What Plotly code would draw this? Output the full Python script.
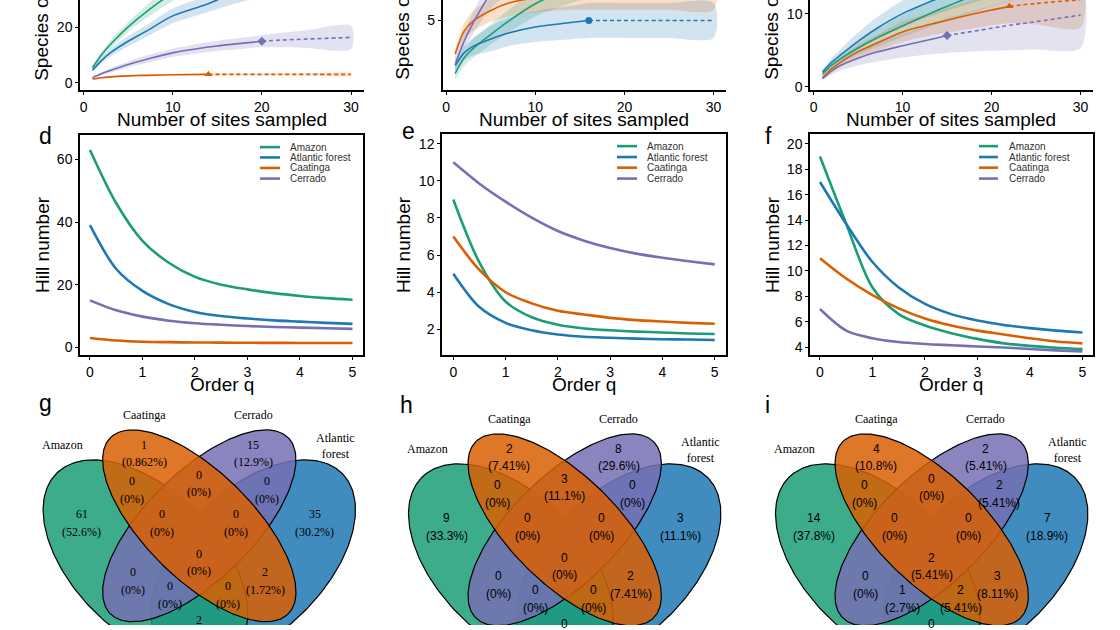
import numpy as np
import plotly.graph_objects as go

W, H = 1120, 630

BIOMES = ["Amazon", "Atlantic forest", "Caatinga", "Cerrado"]
BIOME_COLORS = ["#1b9e77", "#1f78b4", "#d95f02", "#7570b3"]
BIOME_SYMBOLS = ["square", "circle", "triangle-up", "diamond"]

# top row: number of sites sampled vs species observed
SITES = [1, 2, 3, 5, 7, 10, 14, 15, 16, 20, 22, 25, 30]

A_MEAN = {
    "Amazon": [5.4, 10, 13.8, 20.2, 25.6, 32.5, 40, 41.7, 43.3, 50, 53, 57, 63],
    "Atlantic forest": [4.5, 8, 10.8, 15, 18.6, 24.2, 28.6, 30, 31.1, 35.2, 36.8, 39, 42],
    "Caatinga": [1.3, 1.8, 2.1, 2.45, 2.65, 2.85, 3.0, 3.0, 3.0, 3.0, 3.0, 3.0, 3.0],
    "Cerrado": [1.8, 3.2, 4.4, 6.6, 8.4, 10.8, 12.9, 13.3, 13.7, 15.0, 15.4, 15.8, 16.4],
}
A_LOW = {
    "Amazon": [4.6, 8.9, 12.4, 18.4, 23.3, 29.6, 36.4, 37.9, 39.4, 44.7, 47.2, 50.5, 55.5],
    "Atlantic forest": [3.8, 6.9, 9.4, 13.2, 16.5, 21.5, 25.6, 26.7, 27.7, 31.2, 32.6, 34.5, 36.5],
    "Caatinga": [1.0, 1.5, 1.8, 2.1, 2.3, 2.5, 2.6, 2.6, 2.6, 2.6, 2.6, 2.6, 2.6],
    "Cerrado": [1.4, 2.6, 3.6, 5.5, 7.0, 9.3, 11.1, 11.5, 11.8, 12.8, 12.8, 12.6, 12.2],
}
A_HIGH = {
    "Amazon": [6.2, 11.1, 15.2, 22.0, 27.9, 35.4, 43.6, 45.5, 47.2, 55.3, 58.8, 63.5, 70.5],
    "Atlantic forest": [5.2, 9.1, 12.2, 16.8, 20.7, 26.9, 31.6, 33.3, 34.5, 39.2, 41, 43.5, 47.5],
    "Caatinga": [1.6, 2.1, 2.4, 2.8, 3.0, 3.2, 3.4, 3.4, 3.4, 3.4, 3.4, 3.4, 3.4],
    "Cerrado": [2.2, 3.8, 5.2, 7.7, 9.8, 12.3, 14.7, 15.1, 15.6, 17.2, 18.0, 19.0, 20.6],
}
A_OBS = {"Amazon": 30, "Atlantic forest": 25, "Caatinga": 14, "Cerrado": 20}

B_MEAN = {
    "Amazon": [1.05, 2.2, 2.9, 3.95, 4.95, 6.25, 7.4, 7.6, 7.85, 8.6, 9.0, 9.3, 9.7],
    "Atlantic forest": [1.64, 2.58, 3.07, 3.62, 4.07, 4.51, 4.85, 4.93, 5.0, 5.0, 5.0, 5.0, 5.0],
    "Caatinga": [2.5, 4.2, 4.95, 5.75, 6.3, 6.7, 7.0, 7.0, 7.05, 7.15, 7.2, 7.25, 7.3],
    "Cerrado": [1.72, 3.44, 4.8, 7.0, 8.3, 9.4, 10.3, 10.45, 10.6, 11.0, 11.2, 11.5, 11.9],
}
B_LOW = {
    "Amazon": [0.6, 1.6, 2.2, 3.2, 4.1, 5.3, 6.3, 6.5, 6.7, 7.3, 7.5, 7.5, 7.4],
    "Atlantic forest": [1.2, 2.0, 2.4, 2.7, 3.1, 3.4, 3.6, 3.65, 3.7, 3.7, 3.7, 3.7, 3.7],
    "Caatinga": [2.1, 3.6, 4.2, 4.9, 5.3, 5.6, 5.8, 5.8, 5.8, 5.8, 5.8, 5.8, 5.8],
    "Cerrado": [1.3, 2.8, 4.0, 5.9, 7.0, 7.9, 8.6, 8.7, 8.8, 9.0, 9.1, 9.2, 9.3],
}
B_HIGH = {
    "Amazon": [1.5, 2.8, 3.6, 4.7, 5.8, 7.2, 8.5, 8.7, 9.0, 9.9, 10.5, 11.1, 12.0],
    "Atlantic forest": [2.1, 3.1, 3.7, 4.6, 5.2, 5.7, 6.1, 6.2, 6.3, 6.3, 6.3, 6.3, 6.3],
    "Caatinga": [2.9, 4.8, 5.7, 6.6, 7.3, 7.8, 8.2, 8.2, 8.3, 8.5, 8.6, 8.7, 8.8],
    "Cerrado": [2.1, 4.1, 5.6, 8.1, 9.6, 10.9, 12.0, 12.2, 12.4, 13.0, 13.3, 13.8, 14.5],
}
B_OBS = {"Amazon": 22, "Atlantic forest": 16, "Caatinga": 14, "Cerrado": 20}

C_MEAN = {
    "Amazon": [1.7, 2.9, 3.8, 5.3, 6.6, 8.3, 10.5, 11.0, 11.5, 13.5, 14.4, 15.7, 17.6],
    "Atlantic forest": [2.0, 3.3, 4.3, 6.2, 7.9, 10.0, 12.1, 12.6, 13.1, 14.9, 15.7, 17.0, 17.8],
    "Caatinga": [1.2, 2.4, 3.3, 4.8, 5.9, 7.5, 8.8, 9.1, 9.4, 10.5, 11.0, 11.4, 11.9],
    "Cerrado": [1.1, 2.1, 2.9, 3.9, 4.7, 5.6, 6.7, 7.0, 7.2, 8.0, 8.4, 8.9, 9.8],
}
C_LOW = {
    "Amazon": [1.4, 2.4, 3.2, 4.4, 5.4, 6.8, 8.6, 9.0, 9.4, 11.0, 11.7, 12.7, 14.2],
    "Atlantic forest": [1.6, 2.7, 3.5, 5.1, 6.5, 8.3, 10.0, 10.4, 10.8, 12.2, 12.8, 13.7, 13.9],
    "Caatinga": [1.0, 2.0, 2.7, 3.9, 4.8, 6.1, 7.2, 7.4, 7.6, 8.4, 8.7, 8.5, 8.1],
    "Cerrado": [0.9, 1.6, 2.2, 2.9, 3.4, 4.0, 4.5, 4.6, 4.7, 4.9, 5.0, 5.1, 5.3],
}
C_HIGH = {
    "Amazon": [2.0, 3.4, 4.4, 6.3, 7.8, 9.8, 12.4, 13.0, 13.6, 16.0, 17.1, 18.7, 21.0],
    "Atlantic forest": [2.4, 3.9, 5.1, 7.4, 9.4, 11.8, 14.3, 14.9, 15.5, 17.7, 18.7, 20.3, 21.8],
    "Caatinga": [1.5, 2.8, 3.9, 5.7, 7.0, 8.9, 10.4, 10.8, 11.2, 12.6, 13.3, 14.3, 15.7],
    "Cerrado": [1.4, 2.6, 3.6, 4.9, 6.0, 7.2, 8.9, 9.4, 9.7, 11.1, 11.8, 12.7, 14.3],
}
C_OBS = {"Amazon": 30, "Atlantic forest": 25, "Caatinga": 22, "Cerrado": 15}

# middle row: Hill numbers by order q
ORDER_Q = [0, 0.5, 1, 1.5, 2, 2.5, 3, 3.5, 4, 4.5, 5]

D_HILL = {
    "Amazon": [63, 46, 34, 27, 22.5, 20, 18.5, 17.3, 16.4, 15.7, 15.2],
    "Atlantic forest": [39, 25, 18, 13.8, 11.3, 10, 9.2, 8.6, 8.2, 7.8, 7.5],
    "Caatinga": [3, 2.2, 1.8, 1.65, 1.55, 1.5, 1.45, 1.42, 1.4, 1.38, 1.37],
    "Cerrado": [15, 11.8, 9.8, 8.5, 7.7, 7.2, 6.8, 6.5, 6.3, 6.1, 5.9],
}
E_HILL = {
    "Amazon": [9, 5.6, 3.5, 2.65, 2.25, 2.05, 1.95, 1.88, 1.83, 1.78, 1.75],
    "Atlantic forest": [5, 3.2, 2.35, 1.95, 1.72, 1.6, 1.55, 1.5, 1.47, 1.45, 1.43],
    "Caatinga": [7, 5.2, 4.0, 3.4, 3.0, 2.8, 2.62, 2.5, 2.42, 2.35, 2.3],
    "Cerrado": [11, 9.85, 8.88, 8.02, 7.3, 6.78, 6.38, 6.08, 5.86, 5.67, 5.5],
}
F_HILL = {
    "Amazon": [19, 13.7, 8.7, 6.6, 5.7, 5.1, 4.65, 4.3, 4.1, 3.95, 3.85],
    "Atlantic forest": [17, 13.7, 10.7, 8.7, 7.4, 6.6, 6.1, 5.75, 5.5, 5.3, 5.15],
    "Caatinga": [11, 9.4, 8.1, 7.05, 6.25, 5.7, 5.3, 5.0, 4.7, 4.45, 4.3],
    "Cerrado": [7, 5.3, 4.7, 4.4, 4.25, 4.15, 4.05, 3.97, 3.85, 3.75, 3.67],
}

# bottom row: shared species (Venn regions)
VENN_REGIONS = [
    "Amazon", "Caatinga", "Cerrado", "Atlantic forest",
    "Amazon&Caatinga", "Caatinga&Cerrado", "Cerrado&Atlantic forest",
    "Amazon&Caatinga&Cerrado", "Caatinga&Cerrado&Atlantic forest", "all",
    "Amazon&Cerrado", "Caatinga&Atlantic forest",
    "Amazon&Cerrado&Atlantic forest", "Amazon&Caatinga&Atlantic forest",
    "Amazon&Atlantic forest",
]
G_COUNTS = [61, 1, 15, 35, 0, 0, 0, 0, 0, 0, 0, 2, 0, 0, 2]
H_COUNTS = [9, 2, 8, 3, 0, 3, 0, 0, 0, 0, 0, 2, 0, 0, 0]
I_COUNTS = [14, 4, 2, 7, 0, 0, 2, 0, 0, 2, 0, 3, 1, 2, 0]

SANS = "Arial, Liberation Sans, sans-serif"
SERIF = "Times New Roman, Liberation Serif, serif"

# venn layout (grid units, 1 unit = VENN_UNIT px)
VENN_UNIT = 359
VENN_ELLIPSES = {
    "Atlantic forest": (0.65, 0.47, 0.35, 0.2, 45),
    "Amazon": (0.35, 0.47, 0.35, 0.2, 135),
    "Cerrado": (0.5, 0.57, 0.35, 0.15, 45),
    "Caatinga": (0.5, 0.57, 0.35, 0.15, 135),
}
VENN_LABEL_POS = [
    (0.172, 0.578), (0.346, 0.773), (0.650, 0.773), (0.822, 0.578),
    (0.3125, 0.670), (0.5, 0.689), (0.6875, 0.670),
    (0.395, 0.578), (0.603, 0.578), (0.5, 0.467),
    (0.316, 0.415), (0.684, 0.415),
    (0.419, 0.375), (0.581, 0.375),
    (0.5, 0.280),
]
VENN_CAT_POS = {
    "Amazon": (0.118, 0.796),
    "Caatinga": (0.347, 0.882),
    "Cerrado": (0.650, 0.882),
    "Atlantic forest": (0.879, 0.793),
}


def px_x(x):
    return x / W


def px_y(y):
    return 1 - y / H


def rgba(hex_color, alpha):
    h = hex_color.lstrip("#")
    r, g, b = int(h[0:2], 16), int(h[2:4], 16), int(h[4:6], 16)
    return "rgba(%d,%d,%d,%s)" % (r, g, b, alpha)


def ellipse_xy(cx, cy, a, b, angle):
    t = np.linspace(0, 2 * np.pi, 240)
    th = np.radians(angle)
    x = cx + a * np.cos(t) * np.cos(th) - b * np.sin(t) * np.sin(th)
    y = cy + a * np.cos(t) * np.sin(th) + b * np.sin(t) * np.cos(th)
    return x, y


def paper_text(xc, yc, text, font, **kw):
    d = dict(x=px_x(xc), y=px_y(yc), xref="paper", yref="paper", text=text,
             showarrow=False, font=font, xanchor="center", yanchor="middle")
    d.update(kw)
    return d


fig = go.Figure()
annotations = []
shapes = []


def add_rarefaction(mean, low, high, n_obs, xa, ya):
    for biome, col in zip(BIOMES, BIOME_COLORS):
        fig.add_trace(go.Scatter(
            x=SITES + SITES[::-1], y=high[biome] + low[biome][::-1],
            fill="toself", fillcolor=rgba(col, 0.2), mode="lines",
            line=dict(width=0, shape="spline", smoothing=0.8),
            hoverinfo="skip", showlegend=False, xaxis=xa, yaxis=ya))
    for biome, col, sym in zip(BIOMES, BIOME_COLORS, BIOME_SYMBOLS):
        k = SITES.index(n_obs[biome])
        fig.add_trace(go.Scatter(
            x=SITES[:k + 1], y=mean[biome][:k + 1], mode="lines",
            line=dict(color=col, width=1.6, shape="spline", smoothing=0.8),
            showlegend=False, xaxis=xa, yaxis=ya))
        if k < len(SITES) - 1:
            fig.add_trace(go.Scatter(
                x=SITES[k:], y=mean[biome][k:], mode="lines",
                line=dict(color=col, width=1.6, dash="4px,3px", shape="spline"),
                showlegend=False, xaxis=xa, yaxis=ya))
        fig.add_trace(go.Scatter(
            x=[SITES[k]], y=[mean[biome][k]], mode="markers",
            marker=dict(color=col, size=7, symbol=sym),
            showlegend=False, xaxis=xa, yaxis=ya))


def add_hill(hill, xa, ya):
    for biome, col in zip(BIOMES, BIOME_COLORS):
        fig.add_trace(go.Scatter(
            x=ORDER_Q, y=hill[biome], mode="lines",
            line=dict(color=col, width=2.6, shape="spline", smoothing=0.9),
            showlegend=False, xaxis=xa, yaxis=ya))


def add_venn(counts, xa, ya, num_font):
    for biome in VENN_ELLIPSES:
        cx, cy, a, b, ang = VENN_ELLIPSES[biome]
        ex, ey = ellipse_xy(cx, cy, a, b, ang)
        col = BIOME_COLORS[BIOMES.index(biome)]
        fig.add_trace(go.Scatter(
            x=ex, y=ey, mode="lines", fill="toself",
            fillcolor=rgba(col, 0.85), line=dict(color="black", width=1.2),
            hoverinfo="skip", showlegend=False, xaxis=xa, yaxis=ya))
    total = sum(counts)
    dy = 8.85 / VENN_UNIT
    for (lx, ly), n in zip(VENN_LABEL_POS, counts):
        pct = "(%s%%)" % format(100.0 * n / total, ".3g")
        for txt, yy in ((str(n), ly + dy), (pct, ly - dy)):
            annotations.append(dict(
                x=lx, y=yy, xref=xa, yref=ya, text=txt, showarrow=False,
                xanchor="center", yanchor="middle",
                font=dict(family=num_font, size=12, color="black")))
    for biome, (lx, ly) in VENN_CAT_POS.items():
        txt = biome.replace(" ", "<br>") if biome == "Atlantic forest" else biome
        annotations.append(dict(
            x=lx, y=ly, xref=xa, yref=ya, text=txt, showarrow=False,
            xanchor="center", yanchor="middle",
            font=dict(family=SERIF, size=12, color="black")))


add_rarefaction(A_MEAN, A_LOW, A_HIGH, A_OBS, "x", "y")
add_rarefaction(B_MEAN, B_LOW, B_HIGH, B_OBS, "x2", "y2")
add_rarefaction(C_MEAN, C_LOW, C_HIGH, C_OBS, "x3", "y3")
add_hill(D_HILL, "x4", "y4")
add_hill(E_HILL, "x5", "y5")
add_hill(F_HILL, "x6", "y6")
add_venn(G_COUNTS, "x7", "y7", SERIF)
add_venn(H_COUNTS, "x8", "y8", SANS)
add_venn(I_COUNTS, "x9", "y9", SANS)

tick_font = dict(family=SANS, size=14, color="black")
axis_style = dict(showline=True, linecolor="black", linewidth=1.5, ticks="outside",
                  ticklen=3, tickwidth=1.2, tickcolor="black", showgrid=False,
                  zeroline=False, tickfont=tick_font)

layout_axes = {}

# top row
top_x = [(80, 363.5), (442.7, 726), (810, 1093)]
top_y = [[-2.66, 29.96], [-0.19, 6.53], [-0.46, 11.87]]
top_ticks = [[0, 20, 40], [5, 10, 15], [0, 10, 20]]
for i in range(3):
    n = "" if i == 0 else str(i + 1)
    layout_axes["xaxis" + n] = dict(axis_style, domain=[px_x(top_x[i][0]), px_x(top_x[i][1])],
                                     range=[-0.4, 31.4], tickvals=[0, 10, 20, 30],
                                     anchor="y" + n)
    layout_axes["yaxis" + n] = dict(axis_style, domain=[px_y(90.7), 1],
                                     range=top_y[i], tickvals=top_ticks[i],
                                     anchor="x" + n)

# middle row
mid_x = [(80, 363), (442, 726), (810, 1093)]
mid_xr = [[-0.19, 5.2], [-0.216, 5.215], [-0.19, 5.2]]
mid_y = [(136, 358), (135, 358), (135, 358)]
mid_yr = [[-2.5, 67.8], [0.61, 12.53], [3.37, 20.78]]
mid_ticks = [[0, 20, 40, 60], [2, 4, 6, 8, 10, 12], [4, 6, 8, 10, 12, 14, 16, 18, 20]]
for i in range(3):
    n = str(i + 4)
    layout_axes["xaxis" + n] = dict(axis_style, mirror=True,
                                     domain=[px_x(mid_x[i][0]), px_x(mid_x[i][1])],
                                     range=mid_xr[i], tickvals=[0, 1, 2, 3, 4, 5],
                                     anchor="y" + n)
    layout_axes["yaxis" + n] = dict(axis_style, mirror=True,
                                     domain=[px_y(mid_y[i][1]), px_y(mid_y[i][0])],
                                     range=mid_yr[i], tickvals=mid_ticks[i],
                                     anchor="x" + n)

# bottom row (venn)
venn_x = [(0, 373), (373, 747), (747, 1120)]
venn_c = [(199.3, 530), (564.7, 534), (931.7, 534)]
for i in range(3):
    n = str(i + 7)
    x0, x1 = venn_x[i]
    cx, cy = venn_c[i]
    layout_axes["xaxis" + n] = dict(visible=False, domain=[px_x(x0), px_x(x1)],
                                     range=[0.5 + (x0 - cx) / VENN_UNIT, 0.5 + (x1 - cx) / VENN_UNIT],
                                     anchor="y" + n)
    layout_axes["yaxis" + n] = dict(visible=False, domain=[0, px_y(395)],
                                     range=[0.57 - (630 - cy) / VENN_UNIT, 0.57 + (cy - 395) / VENN_UNIT],
                                     anchor="x" + n)

title_font = dict(family=SANS, size=19, color="black")

# axis titles
for xc in [221.7, 584, 950.7]:
    annotations.append(paper_text(xc, 120, "Number of sites sampled", title_font))
for xc in [222, 584, 951]:
    annotations.append(paper_text(xc, 388, "Order q", title_font))
for xc in [42, 403, 772]:
    annotations.append(paper_text(xc, 247, "Hill number", title_font, textangle=-90))
for xc, yb in [(42, 84), (403, 83), (772, 83)]:
    annotations.append(paper_text(xc, yb, "Species observed", title_font,
                                  textangle=-90, yanchor="bottom"))

# panel letters
for letter, xc, yc in [("d", 45, 137), ("e", 408, 132), ("f", 768, 137),
                       ("g", 45, 406), ("h", 406, 408), ("i", 767, 408)]:
    annotations.append(paper_text(xc, yc, letter, dict(family=SANS, size=23, color="black")))

# legends inside middle panels
legend_pos = [(260, 280, 288, [148.3, 158.7, 169.3, 180]),
              (617, 637, 645, [147.3, 158.3, 169, 180]),
              (979, 998, 1006.7, [147.3, 158.3, 169, 180])]
for lx0, lx1, tx, rows in legend_pos:
    for biome, col, ry in zip(BIOMES, BIOME_COLORS, rows):
        shapes.append(dict(type="line", xref="paper", yref="paper",
                           x0=px_x(lx0), x1=px_x(lx1), y0=px_y(ry), y1=px_y(ry),
                           line=dict(color=col, width=2.6)))
        annotations.append(paper_text(tx, ry, biome,
                                      dict(family=SANS, size=10, color="#333333"),
                                      xanchor="left"))

fig.update_layout(
    width=W, height=H,
    margin=dict(l=0, r=0, t=0, b=0),
    paper_bgcolor="white", plot_bgcolor="rgba(0,0,0,0)",
    showlegend=False, hovermode=False,
    annotations=annotations, shapes=shapes,
    **layout_axes,
)

fig.write_html("out.html", config={"displayModeBar": False},
               post_script="document.body.style.margin='0px';")
